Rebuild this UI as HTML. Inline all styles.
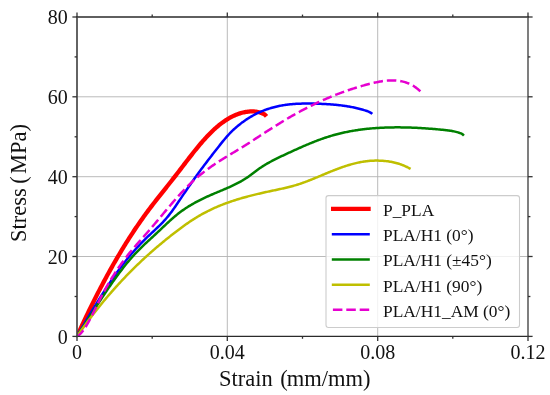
<!DOCTYPE html>
<html lang="en"><head><meta charset="utf-8"><title>Stress-Strain</title>
<style>html,body{margin:0;padding:0;background:#fff}body{width:550px;height:395px;overflow:hidden}</style></head>
<body>
<svg width="550" height="395" viewBox="0 0 550 395" style="display:block">
<rect width="550" height="395" fill="#fff"/>
<g stroke="#b2b2b2" stroke-width="0.9"><line x1="227.3" y1="17.0" x2="227.3" y2="336.4"/><line x1="377.7" y1="17.0" x2="377.7" y2="336.4"/><line x1="77.0" y1="256.5" x2="528.0" y2="256.5"/><line x1="77.0" y1="176.7" x2="528.0" y2="176.7"/><line x1="77.0" y1="96.8" x2="528.0" y2="96.8"/></g>
<defs><clipPath id="c"><rect x="77.0" y="17.0" width="451.0" height="319.4"/></clipPath></defs>
<g clip-path="url(#c)"><path d="M77.00,336.40L78.00,334.20L79.00,332.01L80.00,329.83L81.00,327.67L82.00,325.52L83.00,323.38L84.00,321.25L85.00,319.14L86.00,317.04L87.00,314.95L88.00,312.87L89.00,310.81L90.00,308.76L91.00,306.72L92.00,304.70L93.00,302.69L94.00,300.69L95.00,298.70L96.00,296.72L97.00,294.76L98.00,292.81L99.00,290.87L100.00,288.95L101.00,287.04L102.00,285.14L103.00,283.25L104.00,281.37L105.00,279.51L106.00,277.66L107.00,275.82L108.00,274.00L109.00,272.18L110.00,270.38L111.00,268.59L112.00,266.82L113.00,265.05L114.00,263.30L115.00,261.56L116.00,259.83L117.00,258.12L118.00,256.41L119.00,254.72L120.00,253.04L121.00,251.38L122.00,249.72L123.00,248.08L124.00,246.45L125.00,244.83L126.00,243.22L127.00,241.63L128.00,240.05L129.00,238.47L130.00,236.92L131.00,235.37L132.00,233.83L133.00,232.31L134.00,230.80L135.00,229.30L136.00,227.81L137.00,226.34L138.00,224.88L139.00,223.42L140.00,221.98L141.00,220.56L142.00,219.14L143.00,217.74L144.00,216.34L145.00,214.96L146.00,213.59L147.00,212.23L148.00,210.89L149.00,209.55L150.00,208.22L151.00,206.90L152.00,205.59L153.00,204.29L154.00,203.00L155.00,201.71L156.00,200.42L157.00,199.15L158.00,197.87L159.00,196.61L160.00,195.34L161.00,194.08L162.00,192.82L163.00,191.56L164.00,190.30L165.00,189.05L166.00,187.79L167.00,186.53L168.00,185.27L169.00,184.01L170.00,182.75L171.00,181.49L172.00,180.22L173.00,178.94L174.00,177.66L175.00,176.38L176.00,175.09L177.00,173.80L178.00,172.50L179.00,171.19L180.00,169.89L181.00,168.58L182.00,167.27L183.00,165.97L184.00,164.66L185.00,163.35L186.00,162.05L187.00,160.74L188.00,159.45L189.00,158.15L190.00,156.86L191.00,155.58L192.00,154.31L193.00,153.04L194.00,151.78L195.00,150.53L196.00,149.29L197.00,148.06L198.00,146.84L199.00,145.63L200.00,144.44L201.00,143.26L202.00,142.09L203.00,140.95L204.00,139.81L205.00,138.70L206.00,137.60L207.00,136.52L208.00,135.46L209.00,134.42L210.00,133.40L211.00,132.40L212.00,131.42L213.00,130.47L214.00,129.54L215.00,128.63L216.00,127.74L217.00,126.87L218.00,126.03L219.00,125.21L220.00,124.41L221.00,123.63L222.00,122.88L223.00,122.15L224.00,121.44L225.00,120.76L226.00,120.10L227.00,119.46L228.00,118.85L229.00,118.26L230.00,117.69L231.00,117.15L232.00,116.63L233.00,116.14L234.00,115.66L235.00,115.22L236.00,114.79L237.00,114.40L238.00,114.02L239.00,113.67L240.00,113.35L241.00,113.05L242.00,112.77L243.00,112.52L244.00,112.30L245.00,112.10L246.00,111.92L247.00,111.77L248.00,111.65L249.00,111.55L250.00,111.48L251.00,111.43L252.00,111.41L253.00,111.42L254.00,111.47L255.00,111.54L256.00,111.66L257.00,111.81L258.00,112.01L259.00,112.24L260.00,112.53L261.00,112.86L262.00,113.24L263.00,113.67L264.00,114.16L265.00,114.80L266.00,115.75L266.50,116.38" fill="none" stroke="#ff0000" stroke-width="4.3" stroke-linejoin="round" stroke-linecap="butt"/><path d="M77.00,336.40L78.00,334.66L79.00,332.93L80.00,331.20L81.00,329.47L82.00,327.75L83.00,326.03L84.00,324.32L85.00,322.61L86.00,320.91L87.00,319.22L88.00,317.53L89.00,315.85L90.00,314.17L91.00,312.51L92.00,310.85L93.00,309.19L94.00,307.55L95.00,305.91L96.00,304.28L97.00,302.66L98.00,301.05L99.00,299.44L100.00,297.85L101.00,296.26L102.00,294.69L103.00,293.13L104.00,291.57L105.00,290.03L106.00,288.50L107.00,286.97L108.00,285.46L109.00,283.96L110.00,282.48L111.00,281.00L112.00,279.54L113.00,278.09L114.00,276.65L115.00,275.23L116.00,273.82L117.00,272.42L118.00,271.04L119.00,269.67L120.00,268.32L121.00,266.98L122.00,265.65L123.00,264.34L124.00,263.05L125.00,261.77L126.00,260.51L127.00,259.26L128.00,258.03L129.00,256.82L130.00,255.62L131.00,254.44L132.00,253.28L133.00,252.13L134.00,251.00L135.00,249.89L136.00,248.78L137.00,247.70L138.00,246.62L139.00,245.56L140.00,244.51L141.00,243.47L142.00,242.44L143.00,241.43L144.00,240.42L145.00,239.42L146.00,238.44L147.00,237.46L148.00,236.48L149.00,235.52L150.00,234.56L151.00,233.61L152.00,232.67L153.00,231.73L154.00,230.79L155.00,229.85L156.00,228.91L157.00,227.97L158.00,227.01L159.00,226.05L160.00,225.07L161.00,224.07L162.00,223.05L163.00,222.01L164.00,220.94L165.00,219.84L166.00,218.71L167.00,217.55L168.00,216.34L169.00,215.10L170.00,213.82L171.00,212.50L172.00,211.15L173.00,209.77L174.00,208.36L175.00,206.93L176.00,205.49L177.00,204.03L178.00,202.55L179.00,201.07L180.00,199.59L181.00,198.11L182.00,196.62L183.00,195.15L184.00,193.67L185.00,192.20L186.00,190.74L187.00,189.28L188.00,187.82L189.00,186.37L190.00,184.93L191.00,183.50L192.00,182.07L193.00,180.65L194.00,179.24L195.00,177.83L196.00,176.44L197.00,175.05L198.00,173.68L199.00,172.31L200.00,170.95L201.00,169.60L202.00,168.25L203.00,166.92L204.00,165.59L205.00,164.26L206.00,162.94L207.00,161.63L208.00,160.32L209.00,159.02L210.00,157.72L211.00,156.43L212.00,155.13L213.00,153.85L214.00,152.56L215.00,151.28L216.00,149.99L217.00,148.71L218.00,147.43L219.00,146.16L220.00,144.89L221.00,143.63L222.00,142.38L223.00,141.15L224.00,139.94L225.00,138.75L226.00,137.58L227.00,136.44L228.00,135.33L229.00,134.25L230.00,133.20L231.00,132.18L232.00,131.19L233.00,130.22L234.00,129.28L235.00,128.37L236.00,127.48L237.00,126.61L238.00,125.77L239.00,124.95L240.00,124.15L241.00,123.38L242.00,122.62L243.00,121.89L244.00,121.17L245.00,120.48L246.00,119.80L247.00,119.14L248.00,118.49L249.00,117.87L250.00,117.26L251.00,116.66L252.00,116.09L253.00,115.53L254.00,114.99L255.00,114.46L256.00,113.95L257.00,113.45L258.00,112.97L259.00,112.51L260.00,112.06L261.00,111.62L262.00,111.20L263.00,110.79L264.00,110.40L265.00,110.02L266.00,109.65L267.00,109.30L268.00,108.96L269.00,108.63L270.00,108.32L271.00,108.02L272.00,107.73L273.00,107.45L274.00,107.18L275.00,106.93L276.00,106.69L277.00,106.45L278.00,106.23L279.00,106.02L280.00,105.82L281.00,105.63L282.00,105.45L283.00,105.28L284.00,105.12L285.00,104.97L286.00,104.83L287.00,104.70L288.00,104.57L289.00,104.45L290.00,104.35L291.00,104.25L292.00,104.15L293.00,104.07L294.00,103.99L295.00,103.92L296.00,103.86L297.00,103.80L298.00,103.75L299.00,103.70L300.00,103.66L301.00,103.63L302.00,103.60L303.00,103.58L304.00,103.56L305.00,103.55L306.00,103.54L307.00,103.54L308.00,103.54L309.00,103.55L310.00,103.56L311.00,103.57L312.00,103.58L313.00,103.60L314.00,103.62L315.00,103.65L316.00,103.67L317.00,103.70L318.00,103.73L319.00,103.76L320.00,103.80L321.00,103.84L322.00,103.88L323.00,103.92L324.00,103.97L325.00,104.02L326.00,104.07L327.00,104.13L328.00,104.19L329.00,104.25L330.00,104.32L331.00,104.39L332.00,104.47L333.00,104.55L334.00,104.63L335.00,104.73L336.00,104.82L337.00,104.92L338.00,105.03L339.00,105.14L340.00,105.25L341.00,105.37L342.00,105.50L343.00,105.64L344.00,105.77L345.00,105.92L346.00,106.07L347.00,106.23L348.00,106.40L349.00,106.57L350.00,106.75L351.00,106.93L352.00,107.13L353.00,107.33L354.00,107.54L355.00,107.75L356.00,107.98L357.00,108.21L358.00,108.45L359.00,108.70L360.00,108.96L361.00,109.22L362.00,109.50L363.00,109.78L364.00,110.08L365.00,110.38L366.00,110.69L367.00,111.02L368.00,111.39L369.00,111.81L370.00,112.32L371.00,112.92L372.00,113.63L372.30,113.88" fill="none" stroke="#0000ff" stroke-width="2.5" stroke-linejoin="round" stroke-linecap="butt"/><path d="M77.00,336.40L78.00,334.87L79.00,333.34L80.00,331.80L81.00,330.26L82.00,328.71L83.00,327.17L84.00,325.62L85.00,324.06L86.00,322.51L87.00,320.96L88.00,319.40L89.00,317.85L90.00,316.29L91.00,314.74L92.00,313.18L93.00,311.63L94.00,310.08L95.00,308.54L96.00,306.99L97.00,305.45L98.00,303.92L99.00,302.38L100.00,300.86L101.00,299.34L102.00,297.82L103.00,296.31L104.00,294.81L105.00,293.31L106.00,291.82L107.00,290.34L108.00,288.87L109.00,287.40L110.00,285.95L111.00,284.50L112.00,283.07L113.00,281.65L114.00,280.23L115.00,278.83L116.00,277.44L117.00,276.07L118.00,274.70L119.00,273.35L120.00,272.02L121.00,270.69L122.00,269.39L123.00,268.09L124.00,266.82L125.00,265.56L126.00,264.31L127.00,263.08L128.00,261.87L129.00,260.68L130.00,259.51L131.00,258.35L132.00,257.22L133.00,256.10L134.00,255.00L135.00,253.93L136.00,252.87L137.00,251.82L138.00,250.80L139.00,249.79L140.00,248.79L141.00,247.80L142.00,246.83L143.00,245.86L144.00,244.91L145.00,243.96L146.00,243.02L147.00,242.09L148.00,241.16L149.00,240.24L150.00,239.32L151.00,238.40L152.00,237.48L153.00,236.56L154.00,235.64L155.00,234.72L156.00,233.79L157.00,232.86L158.00,231.93L159.00,230.99L160.00,230.04L161.00,229.09L162.00,228.14L163.00,227.19L164.00,226.24L165.00,225.30L166.00,224.35L167.00,223.42L168.00,222.48L169.00,221.56L170.00,220.65L171.00,219.74L172.00,218.85L173.00,217.97L174.00,217.11L175.00,216.26L176.00,215.43L177.00,214.61L178.00,213.82L179.00,213.04L180.00,212.28L181.00,211.54L182.00,210.82L183.00,210.11L184.00,209.41L185.00,208.74L186.00,208.07L187.00,207.43L188.00,206.79L189.00,206.17L190.00,205.56L191.00,204.97L192.00,204.38L193.00,203.81L194.00,203.25L195.00,202.69L196.00,202.15L197.00,201.62L198.00,201.09L199.00,200.58L200.00,200.07L201.00,199.57L202.00,199.08L203.00,198.59L204.00,198.11L205.00,197.64L206.00,197.18L207.00,196.72L208.00,196.26L209.00,195.81L210.00,195.37L211.00,194.93L212.00,194.49L213.00,194.06L214.00,193.63L215.00,193.21L216.00,192.79L217.00,192.37L218.00,191.95L219.00,191.53L220.00,191.12L221.00,190.70L222.00,190.28L223.00,189.86L224.00,189.44L225.00,189.01L226.00,188.59L227.00,188.15L228.00,187.72L229.00,187.27L230.00,186.82L231.00,186.37L232.00,185.90L233.00,185.43L234.00,184.95L235.00,184.46L236.00,183.96L237.00,183.45L238.00,182.93L239.00,182.39L240.00,181.85L241.00,181.29L242.00,180.71L243.00,180.12L244.00,179.52L245.00,178.90L246.00,178.27L247.00,177.61L248.00,176.94L249.00,176.25L250.00,175.54L251.00,174.81L252.00,174.07L253.00,173.31L254.00,172.55L255.00,171.79L256.00,171.03L257.00,170.27L258.00,169.53L259.00,168.81L260.00,168.10L261.00,167.42L262.00,166.75L263.00,166.11L264.00,165.48L265.00,164.87L266.00,164.27L267.00,163.69L268.00,163.12L269.00,162.56L270.00,162.01L271.00,161.48L272.00,160.95L273.00,160.43L274.00,159.92L275.00,159.41L276.00,158.91L277.00,158.41L278.00,157.92L279.00,157.43L280.00,156.95L281.00,156.47L282.00,155.99L283.00,155.52L284.00,155.05L285.00,154.58L286.00,154.12L287.00,153.65L288.00,153.19L289.00,152.73L290.00,152.27L291.00,151.81L292.00,151.35L293.00,150.89L294.00,150.44L295.00,149.98L296.00,149.53L297.00,149.08L298.00,148.63L299.00,148.18L300.00,147.74L301.00,147.29L302.00,146.85L303.00,146.42L304.00,145.98L305.00,145.55L306.00,145.12L307.00,144.70L308.00,144.28L309.00,143.86L310.00,143.45L311.00,143.04L312.00,142.63L313.00,142.23L314.00,141.83L315.00,141.44L316.00,141.05L317.00,140.67L318.00,140.29L319.00,139.92L320.00,139.55L321.00,139.19L322.00,138.83L323.00,138.48L324.00,138.14L325.00,137.80L326.00,137.46L327.00,137.14L328.00,136.82L329.00,136.50L330.00,136.19L331.00,135.89L332.00,135.60L333.00,135.31L334.00,135.03L335.00,134.75L336.00,134.48L337.00,134.22L338.00,133.96L339.00,133.71L340.00,133.46L341.00,133.22L342.00,132.99L343.00,132.76L344.00,132.54L345.00,132.32L346.00,132.11L347.00,131.91L348.00,131.71L349.00,131.51L350.00,131.32L351.00,131.14L352.00,130.96L353.00,130.78L354.00,130.62L355.00,130.45L356.00,130.29L357.00,130.14L358.00,129.99L359.00,129.85L360.00,129.71L361.00,129.57L362.00,129.44L363.00,129.32L364.00,129.20L365.00,129.08L366.00,128.97L367.00,128.86L368.00,128.76L369.00,128.66L370.00,128.56L371.00,128.47L372.00,128.38L373.00,128.30L374.00,128.22L375.00,128.15L376.00,128.07L377.00,128.01L378.00,127.94L379.00,127.88L380.00,127.83L381.00,127.77L382.00,127.72L383.00,127.68L384.00,127.63L385.00,127.59L386.00,127.56L387.00,127.52L388.00,127.49L389.00,127.46L390.00,127.44L391.00,127.42L392.00,127.40L393.00,127.39L394.00,127.38L395.00,127.37L396.00,127.36L397.00,127.36L398.00,127.36L399.00,127.36L400.00,127.37L401.00,127.38L402.00,127.39L403.00,127.40L404.00,127.42L405.00,127.44L406.00,127.46L407.00,127.48L408.00,127.51L409.00,127.54L410.00,127.57L411.00,127.61L412.00,127.65L413.00,127.68L414.00,127.73L415.00,127.77L416.00,127.82L417.00,127.87L418.00,127.92L419.00,127.97L420.00,128.03L421.00,128.09L422.00,128.15L423.00,128.21L424.00,128.27L425.00,128.34L426.00,128.41L427.00,128.48L428.00,128.55L429.00,128.63L430.00,128.70L431.00,128.78L432.00,128.86L433.00,128.94L434.00,129.02L435.00,129.11L436.00,129.20L437.00,129.29L438.00,129.38L439.00,129.47L440.00,129.56L441.00,129.66L442.00,129.75L443.00,129.85L444.00,129.95L445.00,130.05L446.00,130.16L447.00,130.28L448.00,130.40L449.00,130.53L450.00,130.67L451.00,130.83L452.00,131.00L453.00,131.19L454.00,131.39L455.00,131.61L456.00,131.86L457.00,132.12L458.00,132.41L459.00,132.73L460.00,133.07L461.00,133.44L462.00,133.92L463.00,134.63L463.90,135.59" fill="none" stroke="#008000" stroke-width="2.5" stroke-linejoin="round" stroke-linecap="butt"/><path d="M77.00,336.40L78.00,334.96L79.00,333.54L80.00,332.12L81.00,330.71L82.00,329.31L83.00,327.92L84.00,326.54L85.00,325.17L86.00,323.81L87.00,322.45L88.00,321.11L89.00,319.78L90.00,318.45L91.00,317.13L92.00,315.83L93.00,314.53L94.00,313.24L95.00,311.96L96.00,310.68L97.00,309.42L98.00,308.16L99.00,306.92L100.00,305.68L101.00,304.45L102.00,303.22L103.00,302.01L104.00,300.80L105.00,299.61L106.00,298.42L107.00,297.24L108.00,296.06L109.00,294.90L110.00,293.74L111.00,292.59L112.00,291.44L113.00,290.31L114.00,289.18L115.00,288.06L116.00,286.95L117.00,285.85L118.00,284.75L119.00,283.66L120.00,282.57L121.00,281.50L122.00,280.43L123.00,279.37L124.00,278.31L125.00,277.27L126.00,276.22L127.00,275.19L128.00,274.16L129.00,273.14L130.00,272.13L131.00,271.12L132.00,270.12L133.00,269.13L134.00,268.14L135.00,267.16L136.00,266.18L137.00,265.21L138.00,264.25L139.00,263.29L140.00,262.34L141.00,261.40L142.00,260.46L143.00,259.53L144.00,258.60L145.00,257.68L146.00,256.77L147.00,255.86L148.00,254.95L149.00,254.06L150.00,253.16L151.00,252.28L152.00,251.39L153.00,250.52L154.00,249.65L155.00,248.78L156.00,247.92L157.00,247.06L158.00,246.21L159.00,245.37L160.00,244.53L161.00,243.69L162.00,242.86L163.00,242.03L164.00,241.21L165.00,240.39L166.00,239.58L167.00,238.77L168.00,237.97L169.00,237.17L170.00,236.38L171.00,235.58L172.00,234.80L173.00,234.02L174.00,233.24L175.00,232.47L176.00,231.70L177.00,230.93L178.00,230.17L179.00,229.42L180.00,228.67L181.00,227.93L182.00,227.20L183.00,226.47L184.00,225.75L185.00,225.03L186.00,224.33L187.00,223.63L188.00,222.93L189.00,222.25L190.00,221.57L191.00,220.91L192.00,220.25L193.00,219.60L194.00,218.95L195.00,218.32L196.00,217.70L197.00,217.09L198.00,216.49L199.00,215.89L200.00,215.31L201.00,214.74L202.00,214.18L203.00,213.63L204.00,213.09L205.00,212.56L206.00,212.03L207.00,211.52L208.00,211.01L209.00,210.52L210.00,210.03L211.00,209.55L212.00,209.08L213.00,208.62L214.00,208.17L215.00,207.72L216.00,207.28L217.00,206.85L218.00,206.43L219.00,206.01L220.00,205.60L221.00,205.20L222.00,204.80L223.00,204.41L224.00,204.03L225.00,203.65L226.00,203.28L227.00,202.92L228.00,202.56L229.00,202.21L230.00,201.86L231.00,201.51L232.00,201.18L233.00,200.84L234.00,200.52L235.00,200.19L236.00,199.87L237.00,199.56L238.00,199.25L239.00,198.95L240.00,198.65L241.00,198.35L242.00,198.06L243.00,197.78L244.00,197.49L245.00,197.21L246.00,196.94L247.00,196.67L248.00,196.40L249.00,196.14L250.00,195.87L251.00,195.62L252.00,195.36L253.00,195.11L254.00,194.86L255.00,194.62L256.00,194.38L257.00,194.14L258.00,193.90L259.00,193.67L260.00,193.44L261.00,193.21L262.00,192.98L263.00,192.75L264.00,192.53L265.00,192.31L266.00,192.09L267.00,191.87L268.00,191.65L269.00,191.44L270.00,191.22L271.00,191.01L272.00,190.80L273.00,190.58L274.00,190.37L275.00,190.16L276.00,189.95L277.00,189.74L278.00,189.52L279.00,189.31L280.00,189.09L281.00,188.87L282.00,188.65L283.00,188.43L284.00,188.20L285.00,187.97L286.00,187.74L287.00,187.50L288.00,187.25L289.00,187.01L290.00,186.75L291.00,186.49L292.00,186.22L293.00,185.95L294.00,185.67L295.00,185.38L296.00,185.09L297.00,184.78L298.00,184.47L299.00,184.15L300.00,183.82L301.00,183.48L302.00,183.14L303.00,182.79L304.00,182.43L305.00,182.06L306.00,181.69L307.00,181.31L308.00,180.92L309.00,180.54L310.00,180.14L311.00,179.74L312.00,179.34L313.00,178.94L314.00,178.53L315.00,178.12L316.00,177.70L317.00,177.29L318.00,176.87L319.00,176.45L320.00,176.03L321.00,175.61L322.00,175.19L323.00,174.77L324.00,174.35L325.00,173.93L326.00,173.51L327.00,173.10L328.00,172.68L329.00,172.27L330.00,171.86L331.00,171.46L332.00,171.06L333.00,170.66L334.00,170.26L335.00,169.87L336.00,169.49L337.00,169.11L338.00,168.73L339.00,168.36L340.00,168.00L341.00,167.64L342.00,167.28L343.00,166.93L344.00,166.59L345.00,166.26L346.00,165.93L347.00,165.61L348.00,165.30L349.00,164.99L350.00,164.70L351.00,164.41L352.00,164.13L353.00,163.86L354.00,163.60L355.00,163.35L356.00,163.10L357.00,162.87L358.00,162.65L359.00,162.44L360.00,162.23L361.00,162.04L362.00,161.86L363.00,161.70L364.00,161.54L365.00,161.40L366.00,161.27L367.00,161.15L368.00,161.04L369.00,160.94L370.00,160.86L371.00,160.79L372.00,160.73L373.00,160.68L374.00,160.64L375.00,160.62L376.00,160.61L377.00,160.61L378.00,160.62L379.00,160.64L380.00,160.67L381.00,160.72L382.00,160.77L383.00,160.84L384.00,160.92L385.00,161.01L386.00,161.12L387.00,161.23L388.00,161.36L389.00,161.51L390.00,161.67L391.00,161.84L392.00,162.03L393.00,162.23L394.00,162.45L395.00,162.69L396.00,162.94L397.00,163.21L398.00,163.50L399.00,163.81L400.00,164.13L401.00,164.48L402.00,164.85L403.00,165.23L404.00,165.64L405.00,166.07L406.00,166.52L407.00,167.00L408.00,167.50L409.00,168.02L410.00,168.56L410.60,168.90" fill="none" stroke="#bfbf00" stroke-width="2.5" stroke-linejoin="round" stroke-linecap="butt"/><path d="M77.00,336.40L78.00,335.80L79.00,335.06L80.00,334.16L81.00,333.13L82.00,331.98L83.00,330.70L84.00,329.32L85.00,327.83L86.00,326.25L87.00,324.59L88.00,322.85L89.00,321.04L90.00,319.18L91.00,317.27L92.00,315.31L93.00,313.32L94.00,311.31L95.00,309.28L96.00,307.25L97.00,305.21L98.00,303.19L99.00,301.19L100.00,299.21L101.00,297.26L102.00,295.35L103.00,293.46L104.00,291.60L105.00,289.78L106.00,287.98L107.00,286.21L108.00,284.47L109.00,282.75L110.00,281.06L111.00,279.40L112.00,277.77L113.00,276.16L114.00,274.58L115.00,273.02L116.00,271.48L117.00,269.98L118.00,268.49L119.00,267.03L120.00,265.59L121.00,264.18L122.00,262.79L123.00,261.41L124.00,260.07L125.00,258.74L126.00,257.43L127.00,256.15L128.00,254.88L129.00,253.63L130.00,252.40L131.00,251.19L132.00,249.99L133.00,248.81L134.00,247.63L135.00,246.47L136.00,245.32L137.00,244.17L138.00,243.03L139.00,241.90L140.00,240.77L141.00,239.64L142.00,238.52L143.00,237.39L144.00,236.27L145.00,235.14L146.00,234.00L147.00,232.86L148.00,231.72L149.00,230.57L150.00,229.41L151.00,228.24L152.00,227.07L153.00,225.90L154.00,224.72L155.00,223.53L156.00,222.35L157.00,221.16L158.00,219.96L159.00,218.77L160.00,217.58L161.00,216.38L162.00,215.18L163.00,213.99L164.00,212.80L165.00,211.60L166.00,210.41L167.00,209.23L168.00,208.04L169.00,206.86L170.00,205.69L171.00,204.52L172.00,203.35L173.00,202.19L174.00,201.04L175.00,199.89L176.00,198.76L177.00,197.63L178.00,196.50L179.00,195.39L180.00,194.29L181.00,193.20L182.00,192.12L183.00,191.05L184.00,189.99L185.00,188.95L186.00,187.92L187.00,186.90L188.00,185.90L189.00,184.91L190.00,183.93L191.00,182.98L192.00,182.04L193.00,181.11L194.00,180.20L195.00,179.31L196.00,178.43L197.00,177.56L198.00,176.71L199.00,175.88L200.00,175.05L201.00,174.24L202.00,173.44L203.00,172.66L204.00,171.88L205.00,171.12L206.00,170.37L207.00,169.63L208.00,168.90L209.00,168.18L210.00,167.46L211.00,166.76L212.00,166.07L213.00,165.38L214.00,164.70L215.00,164.03L216.00,163.37L217.00,162.71L218.00,162.06L219.00,161.42L220.00,160.78L221.00,160.14L222.00,159.52L223.00,158.89L224.00,158.27L225.00,157.65L226.00,157.04L227.00,156.43L228.00,155.82L229.00,155.21L230.00,154.61L231.00,154.00L232.00,153.40L233.00,152.80L234.00,152.20L235.00,151.59L236.00,150.99L237.00,150.39L238.00,149.78L239.00,149.17L240.00,148.56L241.00,147.95L242.00,147.33L243.00,146.72L244.00,146.09L245.00,145.47L246.00,144.84L247.00,144.20L248.00,143.57L249.00,142.93L250.00,142.29L251.00,141.65L252.00,141.00L253.00,140.35L254.00,139.71L255.00,139.06L256.00,138.41L257.00,137.76L258.00,137.11L259.00,136.46L260.00,135.81L261.00,135.16L262.00,134.51L263.00,133.86L264.00,133.21L265.00,132.57L266.00,131.92L267.00,131.28L268.00,130.64L269.00,130.00L270.00,129.36L271.00,128.72L272.00,128.09L273.00,127.45L274.00,126.82L275.00,126.19L276.00,125.57L277.00,124.94L278.00,124.32L279.00,123.70L280.00,123.09L281.00,122.48L282.00,121.87L283.00,121.26L284.00,120.66L285.00,120.06L286.00,119.46L287.00,118.87L288.00,118.28L289.00,117.69L290.00,117.11L291.00,116.53L292.00,115.96L293.00,115.39L294.00,114.82L295.00,114.26L296.00,113.70L297.00,113.15L298.00,112.60L299.00,112.05L300.00,111.51L301.00,110.97L302.00,110.44L303.00,109.91L304.00,109.38L305.00,108.86L306.00,108.34L307.00,107.83L308.00,107.32L309.00,106.82L310.00,106.31L311.00,105.82L312.00,105.32L313.00,104.83L314.00,104.35L315.00,103.87L316.00,103.39L317.00,102.92L318.00,102.45L319.00,101.98L320.00,101.52L321.00,101.07L322.00,100.61L323.00,100.17L324.00,99.72L325.00,99.28L326.00,98.85L327.00,98.41L328.00,97.99L329.00,97.56L330.00,97.14L331.00,96.73L332.00,96.32L333.00,95.91L334.00,95.50L335.00,95.11L336.00,94.71L337.00,94.32L338.00,93.93L339.00,93.55L340.00,93.17L341.00,92.80L342.00,92.43L343.00,92.06L344.00,91.70L345.00,91.34L346.00,90.99L347.00,90.64L348.00,90.30L349.00,89.96L350.00,89.62L351.00,89.29L352.00,88.96L353.00,88.64L354.00,88.32L355.00,88.00L356.00,87.69L357.00,87.38L358.00,87.08L359.00,86.78L360.00,86.49L361.00,86.20L362.00,85.91L363.00,85.63L364.00,85.35L365.00,85.08L366.00,84.81L367.00,84.55L368.00,84.29L369.00,84.03L370.00,83.78L371.00,83.53L372.00,83.29L373.00,83.05L374.00,82.82L375.00,82.59L376.00,82.37L377.00,82.16L378.00,81.95L379.00,81.76L380.00,81.58L381.00,81.40L382.00,81.24L383.00,81.09L384.00,80.95L385.00,80.82L386.00,80.71L387.00,80.62L388.00,80.53L389.00,80.47L390.00,80.42L391.00,80.39L392.00,80.38L393.00,80.38L394.00,80.41L395.00,80.45L396.00,80.52L397.00,80.61L398.00,80.72L399.00,80.85L400.00,81.01L401.00,81.19L402.00,81.40L403.00,81.63L404.00,81.89L405.00,82.17L406.00,82.49L407.00,82.83L408.00,83.21L409.00,83.62L410.00,84.07L411.00,84.56L412.00,85.08L413.00,85.65L414.00,86.27L415.00,86.93L416.00,87.64L417.00,88.40L418.00,89.22L419.00,90.09L420.00,91.01L420.30,91.30" fill="none" stroke="#e600d0" stroke-width="2.5" stroke-linejoin="round" stroke-linecap="butt" stroke-dasharray="9.466 3.961" stroke-dashoffset="0.7"/></g>
<g fill="none" stroke-linecap="square"><path d="M77.0,17.0H528.0M77.0,336.4H528.0" stroke="#2b2b2b" stroke-width="1.4"/><path d="M77.0,17.0V336.4" stroke="#484848" stroke-width="1.7"/><path d="M528.0,17.0V336.4" stroke="#484848" stroke-width="1.4"/></g>
<g stroke="#333" stroke-width="1.3"><line x1="77.0" y1="336.4" x2="77.0" y2="341.0"/><line x1="77.0" y1="17.0" x2="77.0" y2="12.4"/><line x1="152.2" y1="336.4" x2="152.2" y2="338.79999999999995"/><line x1="152.2" y1="17.0" x2="152.2" y2="14.6"/><line x1="227.3" y1="336.4" x2="227.3" y2="341.0"/><line x1="227.3" y1="17.0" x2="227.3" y2="12.4"/><line x1="302.5" y1="336.4" x2="302.5" y2="338.79999999999995"/><line x1="302.5" y1="17.0" x2="302.5" y2="14.6"/><line x1="377.7" y1="336.4" x2="377.7" y2="341.0"/><line x1="377.7" y1="17.0" x2="377.7" y2="12.4"/><line x1="452.8" y1="336.4" x2="452.8" y2="338.79999999999995"/><line x1="452.8" y1="17.0" x2="452.8" y2="14.6"/><line x1="528.0" y1="336.4" x2="528.0" y2="341.0"/><line x1="528.0" y1="17.0" x2="528.0" y2="12.4"/><line x1="77.0" y1="336.4" x2="72.4" y2="336.4"/><line x1="528.0" y1="336.4" x2="532.6" y2="336.4"/><line x1="77.0" y1="296.5" x2="74.6" y2="296.5"/><line x1="528.0" y1="296.5" x2="530.4" y2="296.5"/><line x1="77.0" y1="256.5" x2="72.4" y2="256.5"/><line x1="528.0" y1="256.5" x2="532.6" y2="256.5"/><line x1="77.0" y1="216.6" x2="74.6" y2="216.6"/><line x1="528.0" y1="216.6" x2="530.4" y2="216.6"/><line x1="77.0" y1="176.7" x2="72.4" y2="176.7"/><line x1="528.0" y1="176.7" x2="532.6" y2="176.7"/><line x1="77.0" y1="136.8" x2="74.6" y2="136.8"/><line x1="528.0" y1="136.8" x2="530.4" y2="136.8"/><line x1="77.0" y1="96.8" x2="72.4" y2="96.8"/><line x1="528.0" y1="96.8" x2="532.6" y2="96.8"/><line x1="77.0" y1="56.9" x2="74.6" y2="56.9"/><line x1="528.0" y1="56.9" x2="530.4" y2="56.9"/><line x1="77.0" y1="17.0" x2="72.4" y2="17.0"/><line x1="528.0" y1="17.0" x2="532.6" y2="17.0"/></g>
<g font-family="'Liberation Serif', 'Times New Roman', serif" font-size="20" fill="#111"><text x="77.0" y="359" text-anchor="middle">0</text><text x="227.3" y="359" text-anchor="middle">0.04</text><text x="377.7" y="359" text-anchor="middle">0.08</text><text x="528.0" y="359" text-anchor="middle">0.12</text><text x="67.8" y="343.6" text-anchor="end">0</text><text x="67.8" y="263.7" text-anchor="end">20</text><text x="67.8" y="183.9" text-anchor="end">40</text><text x="67.8" y="104.0" text-anchor="end">60</text><text x="67.8" y="24.2" text-anchor="end">80</text></g>
<g font-family="'Liberation Serif', 'Times New Roman', serif" font-size="22.5" fill="#111"><text x="218.9" y="385.5">Strain<tspan dx="1.9"> (</tspan><tspan dx="-0.9">mm/mm)</tspan></text><text transform="translate(26.3,242.0) rotate(-90)">Stress<tspan dx="-1.1"> (</tspan><tspan dx="2.1">MPa)</tspan></text></g>
<rect x="326" y="195.6" width="193.5" height="131.9" rx="2.5" fill="#fff" fill-opacity="0.8" stroke="#ccc" stroke-width="1.1"/>
<line x1="331" y1="208.9" x2="370.7" y2="208.9" stroke="#ff0000" stroke-width="4.3"/><line x1="331.8" y1="234.2" x2="369.8" y2="234.2" stroke="#0000ff" stroke-width="2.5"/><line x1="331.8" y1="259.4" x2="369.8" y2="259.4" stroke="#008000" stroke-width="2.5"/><line x1="331.8" y1="284.8" x2="369.8" y2="284.8" stroke="#bfbf00" stroke-width="2.5"/><line x1="332.9" y1="309.8" x2="369.9" y2="309.8" stroke="#e600d0" stroke-width="2.5" stroke-dasharray="9.5 3.9"/>
<g font-family="'Liberation Serif', 'Times New Roman', serif" font-size="17.4" fill="#111"><text x="383" y="215.6">P_PLA</text><text x="383" y="240.9">PLA/H1 (0°)</text><text x="383" y="266.1">PLA/H1 (±45°)</text><text x="383" y="291.5">PLA/H1 (90°)</text><text x="383" y="316.5">PLA/H1_AM (0°)</text></g>
</svg>
</body></html>
